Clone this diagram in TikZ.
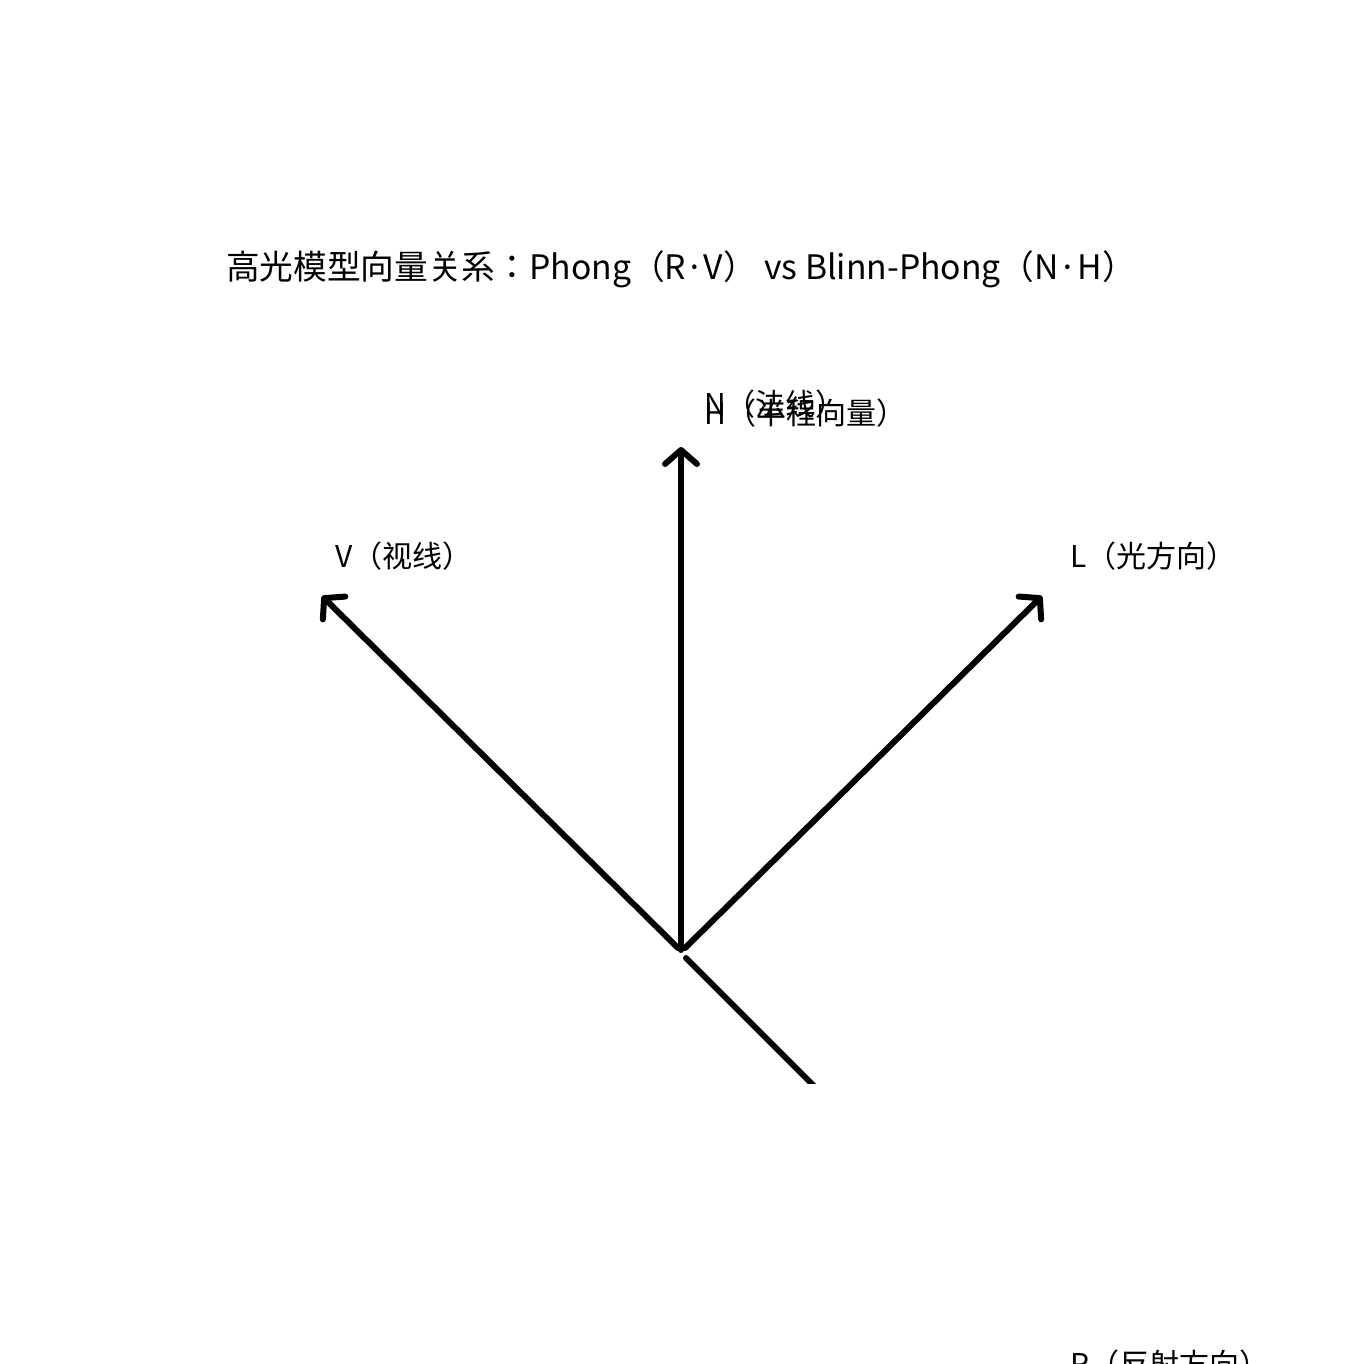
\documentclass[tikz,border=0pt]{standalone}
\usepackage{fontspec}
\setmainfont{Noto Sans CJK JP}
\usetikzlibrary{arrows.meta}
\begin{document}
\begin{tikzpicture}[x=1pt,y=-1pt,
  vec/.style={line width=6pt,line cap=round,-{Straight Barb[length=14pt,width=32pt,round]}},
  lbl/.style={anchor=west,inner sep=0pt,font=\fontsize{30}{32}\selectfont},
  ttl/.style={inner sep=0pt,font=\fontsize{33.7}{40}\selectfont}]
\useasboundingbox[fill=white] (0,0) rectangle (1364,1364);
\node[ttl] (title) at (681,269) {高光模型向量关系：Phong（R·V） vs Blinn-Phong（N·H）};
\coordinate (O) at (681,950);
\coordinate (OV) at (678,948);
\coordinate (OL) at (685,948);
\coordinate (OR) at (686,958);
\coordinate (tN) at (681,447);
\coordinate (tV) at (322,596);
\coordinate (tL) at (1042,596);
\coordinate (tR) at (1071,1343);
\node[lbl] (lN) at (704,404) {N（法线）};
\node[lbl] (lH) at (704,413) {H（半程向量）};
\node[lbl] (lV) at (335,556) {V（视线）};
\node[lbl] (lL) at (1070,556) {L（光方向）};
\node[lbl] (lR) at (1070,1364) {R（反射方向）};
\draw[vec] (O) -- (tN);
\draw[vec] (OV) -- (tV);
\draw[vec] (OL) -- (tL);
\begin{scope}
\clip (0,0) rectangle (1364,1083);
\draw[line width=6pt,line cap=round] (OR) -- (tR);
\end{scope}
\end{tikzpicture}
\end{document}
